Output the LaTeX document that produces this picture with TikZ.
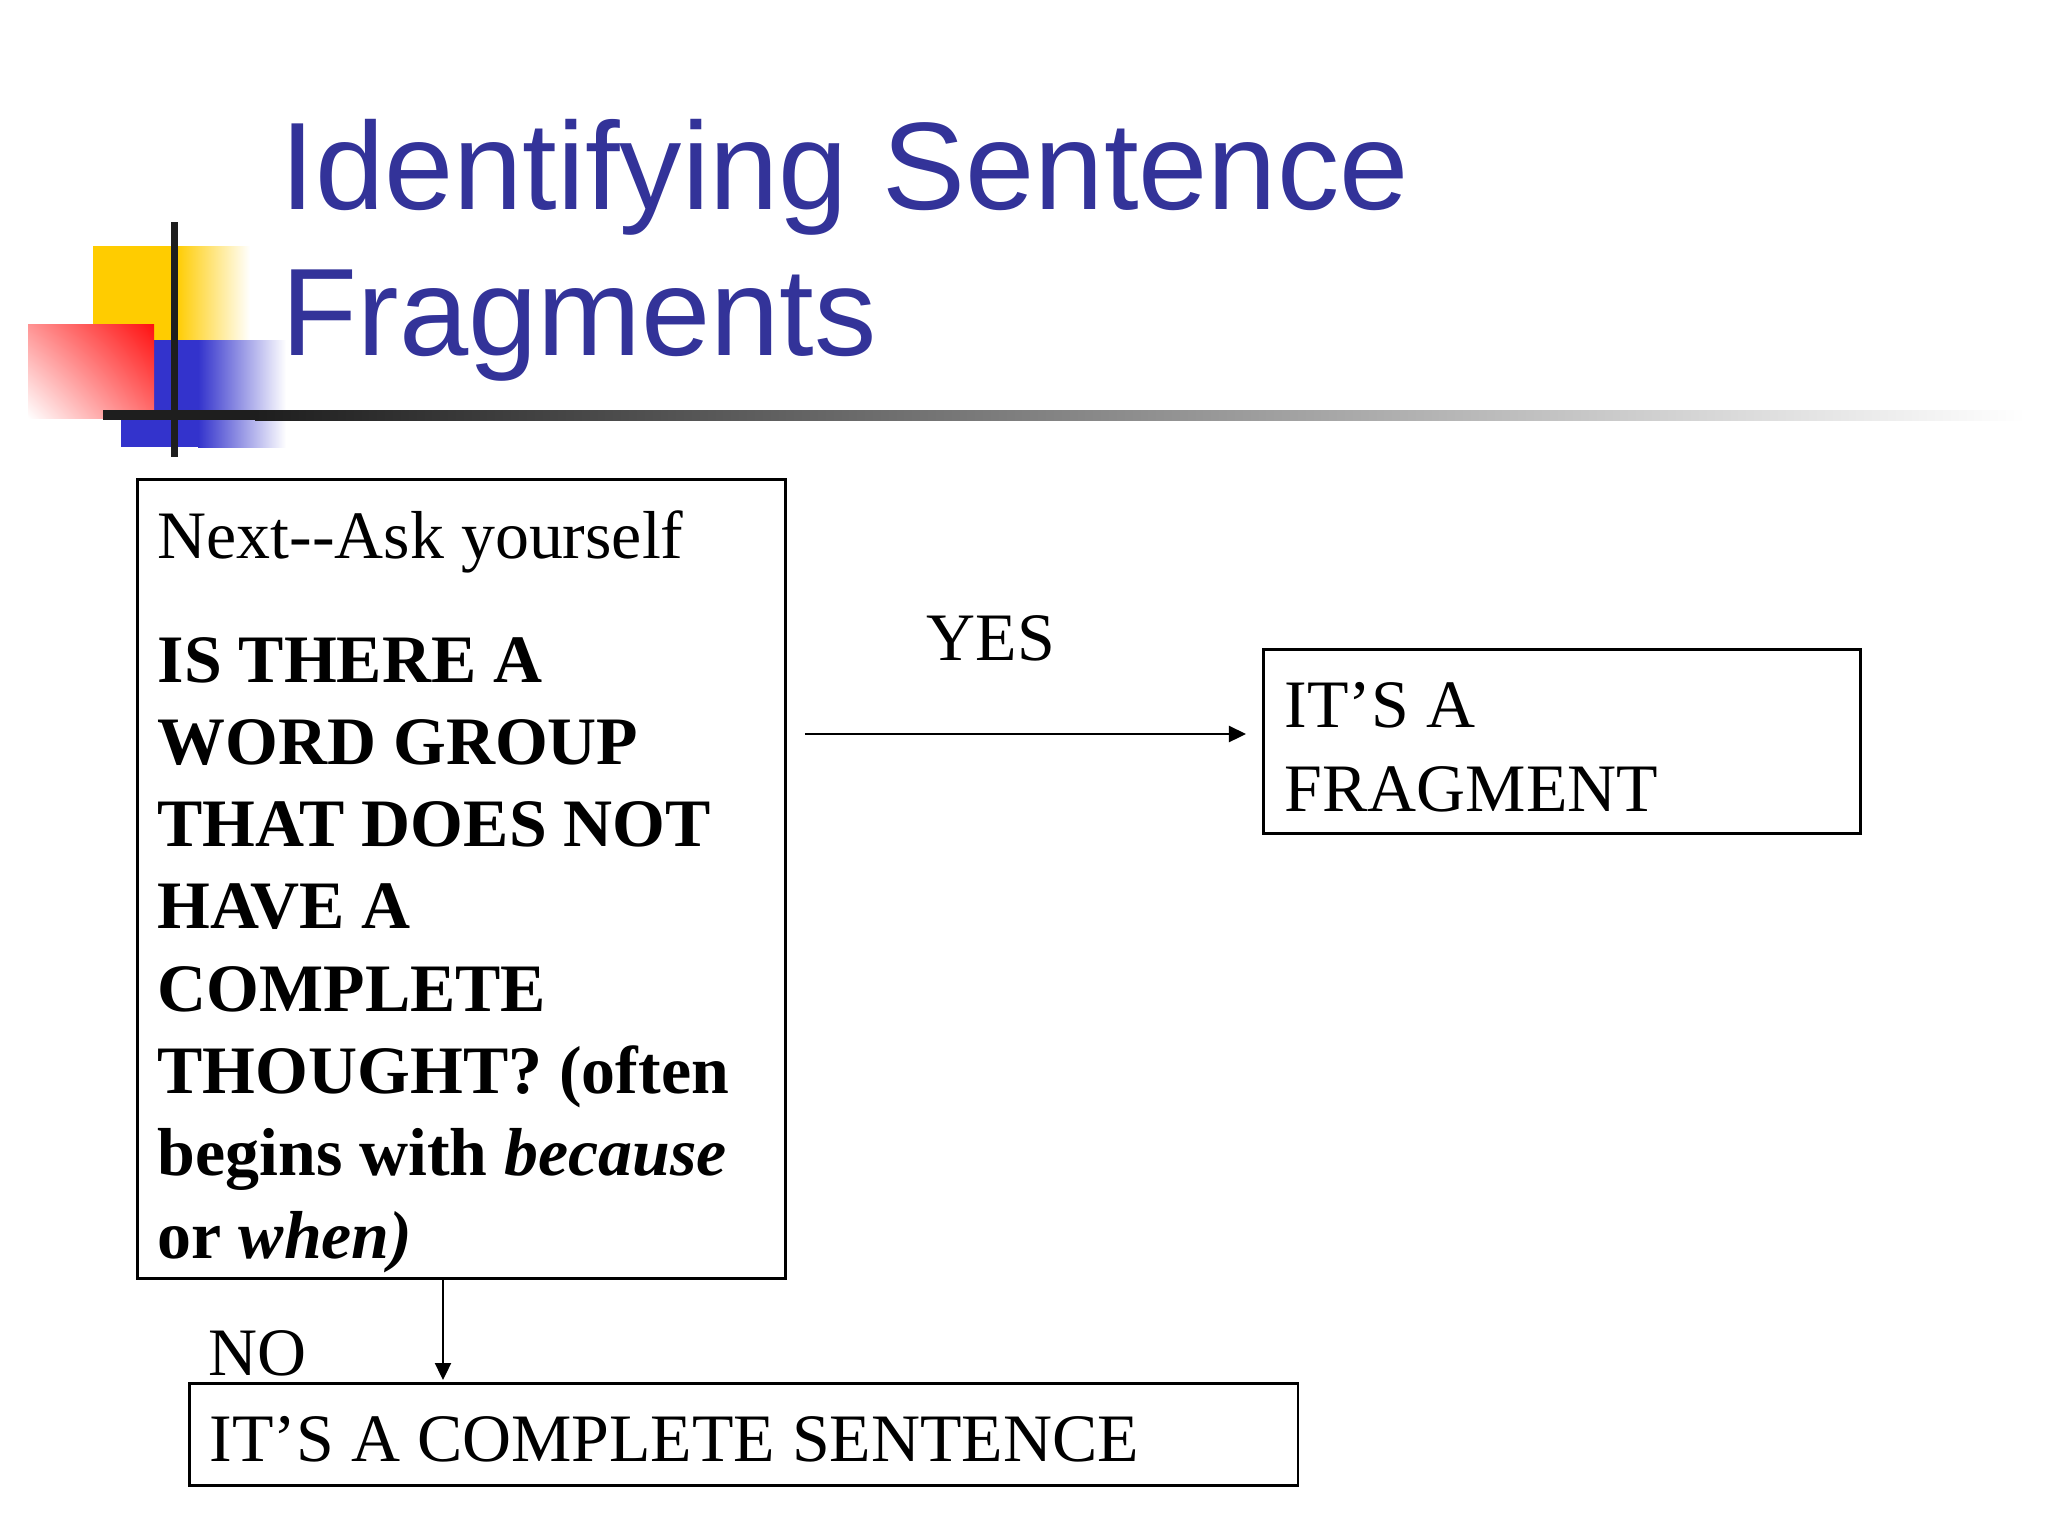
\documentclass[tikz,border=0pt]{standalone}
\usepackage{fontspec}
\setmainfont{Liberation Serif}
\newfontfamily\titlefont{Liberation Sans}
\usepackage{tikz}
\usetikzlibrary{arrows.meta,positioning,shadings}
\definecolor{titleblue}{HTML}{333399}
\definecolor{logoyellow}{HTML}{FFCC00}
\definecolor{logoblue}{HTML}{3333CC}
\definecolor{logored}{HTML}{FF1010}
\definecolor{barblack}{HTML}{1E1E1E}

\tikzset{
	box/.style={draw, line width=0.025cm, anchor=north west, inner sep=0pt},
	plain/.style={anchor=base west, inner sep=0pt, font=\fontsize{19.3pt}{23.4pt}\selectfont},
	question/.style={anchor=base west, inner sep=0pt, align=flush left, text width=6.2cm,
		font=\bfseries\fontsize{19.3pt}{23.4pt}\selectfont},
	titletext/.style={anchor=base west, inner sep=0pt, text=titleblue,
		font=\titlefont\fontsize{35.4pt}{41.5pt}\selectfont},
	link/.style={line width=0.023cm, -{Triangle[length=0.17cm,width=0.16cm]}}
}

\begin{document}
\begin{tikzpicture}[x=0.01cm, y=-0.01cm]
	\useasboundingbox (0,0) rectangle (2048,1536);
	\fill[white] (0,0) rectangle (2048,1536);

	% logo
	\fill[logoyellow] (93,246) rectangle (176,340);
	\shade[left color=logoyellow, right color=white] (176,246) rectangle (250,340);
	\fill[logoblue] (121,340) rectangle (198,447);
	\shade[left color=logoblue, right color=white] (198,340) rectangle (286,447);
	\shade[upper right=logored, upper left=logored!45, lower right=logored!60, lower left=white]
		(28,324) rectangle (154,418);
	\fill[barblack] (103,410) rectangle (255,420);
	\shade[left color=barblack, right color=white] (255,410) rectangle (2025,420);
	\fill[barblack] (171,222) rectangle (178,457);

	\node[titletext] (title1) at (280,209) {Identifying Sentence};
	\node[titletext] (title2) at (281,355) {Fragments};

	\node[box, minimum width=6.48cm, minimum height=7.99cm] (ask) at (136,478) {};
	\node[box, minimum width=5.97cm, minimum height=1.84cm] (frag) at (1262,648) {};
	\node[box, minimum width=11.08cm, minimum height=1.02cm] (comp) at (188,1382) {};

	\node[plain] (next) at (157,558) {Next-\kern0pt-Ask yourself};
	\node[question] (q) at (157,682) {IS THERE A\\ WORD GROUP\\ THAT DOES NOT\\ HAVE A\\
		COMPLETE\\ THOUGHT? (often\\ begins with \textit{because}\\ or \textit{when)}};
	\node[plain, align=flush left, text width=5.5cm, font=\fontsize{19.3pt}{23.9pt}\selectfont] (fragtext) at (1284,727) {IT’S A\\ FRAGMENT};
	\node[plain] (comptext) at (209,1461) {IT’S A COMPLETE SENTENCE};

	\node[plain] (yes) at (926,660) {YES};
	\node[plain] (no) at (208,1375) {NO};

	\coordinate (yesy) at (0,734);
	\coordinate (nox) at (443,0);
	\draw[link, shorten <=0.18cm, shorten >=0.16cm] (ask.east |- yesy) -- (frag.west |- yesy);
	\draw[link, shorten >=0.02cm] (ask.south -| nox) -- (comp.north -| nox);
\end{tikzpicture}
\end{document}
